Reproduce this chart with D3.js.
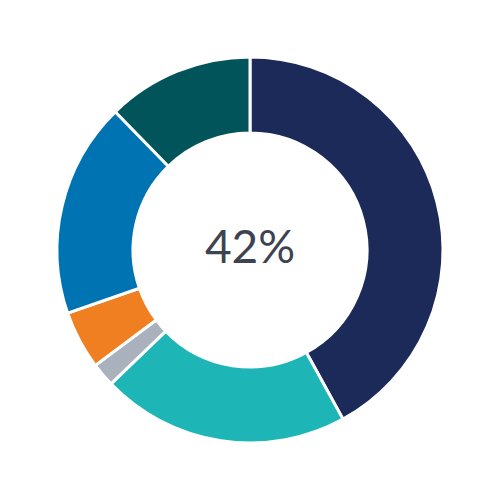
<!DOCTYPE html>
<html>
<head>
<meta charset="utf-8">
<script src="https://cdn.jsdelivr.net/npm/d3@7"></script>
<style>
  body { margin: 0; background: #ffffff; }
</style>
</head>
<body>
<div class="donut"></div>
<script>
// data
const labels = ["A", "B", "C", "D", "E", "F"];
const values = [42, 20.8, 2, 4.9, 18, 12.3];
const colors = ["#1c2a5a", "#1eb5b6", "#a9b2bc", "#f07f21", "#0073b3", "#00545a"];
const centerLabel = "42%";

// constants
const width = 500;
const height = 500;
const outer_radius = 193;
const inner_radius = 117;

const svg = d3.select(".donut").append("svg")
    .attr("width", width)
    .attr("height", height)
    .append("g")
    .attr("transform", "translate(" + (width / 2) + ", " + (height / 2) + ")");

const pie = d3.pie()
    .sort(null)
    .value(function(d) { return d; });

const arc = d3.arc()
    .innerRadius(inner_radius)
    .outerRadius(outer_radius);

svg.selectAll(".slice")
    .data(pie(values)).enter()
    .append("path")
    .attr("class", "slice")
    .attr("d", arc)
    .attr("fill", function(d, i) { return colors[i]; })
    .attr("stroke", "#ffffff")
    .attr("stroke-width", 3);

// center text
svg.append("text")
    .attr("text-anchor", "middle")
    .attr("x", 0)
    .attr("y", 13)
    .style("font-family", "Lato, 'Open Sans', sans-serif")
    .style("font-size", "46px")
    .style("fill", "#3d4350")
    .text(centerLabel);
</script>
</body>
</html>
